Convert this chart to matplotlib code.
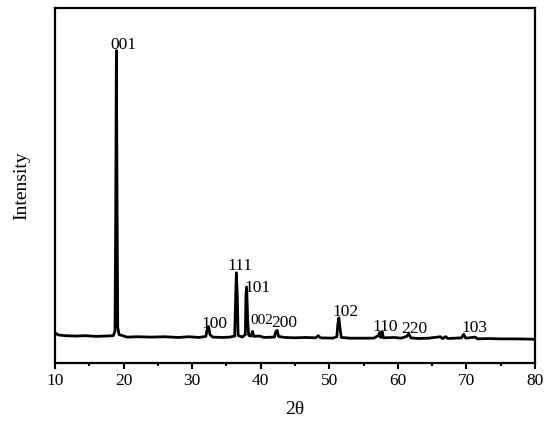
import matplotlib
matplotlib.use('Agg')
import matplotlib.pyplot as plt
from matplotlib.ticker import MultipleLocator

# XRD pattern points (2theta, intensity in arbitrary units)
two_theta = [10.0, 10.5, 11.5, 13.0, 14.5, 16.0, 17.5, 18.5, 18.75, 18.85, 18.95, 19.05, 19.15, 19.35,
             20.5, 22.0, 24.0, 26.0, 28.0, 29.5, 31.0, 32.0, 32.2, 32.4, 32.6, 33.0, 34.5, 35.5,
             36.2, 36.3, 36.45, 36.6, 36.7, 37.3, 37.75, 37.85, 37.95, 38.1, 38.25, 38.6, 38.8, 39.0,
             39.8, 40.5, 42.0, 42.2, 42.4, 42.6, 43.5, 45.0, 46.5, 48.0, 48.4, 48.7, 50.5, 51.1,
             51.25, 51.4, 51.55, 51.75, 53.0, 55.0, 56.5, 57.2, 57.35, 57.5, 57.7, 57.9, 59.5, 60.5,
             61.3, 61.6, 61.9, 63.0, 64.5, 66.2, 66.5, 67.0, 67.3, 69.3, 69.6, 69.9, 71.3, 71.6,
             73.0, 75.0, 77.0, 80.0]
intensity = [8.5, 7.9, 7.7, 7.6, 7.7, 7.5, 7.6, 7.7, 9.0, 40.0, 88.0, 45.0, 10.0, 8.0,
             7.3, 7.4, 7.3, 7.4, 7.2, 7.4, 7.2, 7.5, 9.5, 10.3, 8.0, 7.3, 7.2, 7.3,
             7.6, 15.0, 25.4, 18.0, 7.8, 7.3, 8.0, 19.0, 21.4, 12.0, 7.8, 7.6, 8.9, 7.5,
             7.6, 7.2, 7.3, 8.8, 9.2, 7.5, 7.2, 7.1, 7.2, 7.1, 7.7, 7.1, 7.0, 7.4,
             11.0, 12.7, 10.0, 7.2, 7.0, 7.0, 7.0, 7.8, 8.6, 7.2, 8.8, 7.1, 7.2, 7.0,
             7.5, 8.2, 7.1, 6.9, 7.0, 7.4, 6.9, 7.4, 6.9, 7.1, 8.1, 7.0, 7.3, 6.8,
             6.9, 6.8, 6.8, 6.7]

# peak labels and where they sit
peak_labels = ['001', '111', '101', '100', '002', '200', '102', '110', '220', '103']
label_x = [20.0, 37.0, 39.6, 33.3, 40.2, 43.5, 52.4, 58.1, 62.4, 71.1]
label_y = [89.6, 27.2, 21.1, 11.1, 11.9, 11.3, 14.4, 10.1, 9.6, 9.9]
label_size = [12.5, 12.5, 12.5, 12.5, 11, 12.5, 12.5, 12.5, 12.5, 12.5]

plt.rcParams['font.family'] = ['Liberation Serif', 'DejaVu Serif']

fig = plt.figure(figsize=(5.5, 4.29), dpi=100)
ax = fig.add_axes([0.1, 0.1538, 0.8727, 0.8276])

ax.plot(two_theta, intensity, color='black', linewidth=2.0)

for lab, lx, ly, fs in zip(peak_labels, label_x, label_y, label_size):
    ax.text(lx, ly, lab, fontsize=fs, ha='center', va='center')

ax.set_xlim(10, 80)
ax.set_ylim(0, 100)
ax.xaxis.set_major_locator(MultipleLocator(10))
ax.xaxis.set_minor_locator(MultipleLocator(5))
ax.set_yticks([])
ax.tick_params(axis='x', which='major', direction='out', length=4.5, width=1.5, labelsize=12.5, pad=3)
ax.tick_params(axis='x', which='minor', direction='out', length=2.5, width=1.5)
for s in ax.spines.values():
    s.set_linewidth(1.6)

ax.set_xlabel('2θ', fontsize=14, labelpad=8)
ax.set_ylabel('Intensity', fontsize=14, labelpad=18)

fig.savefig('out.png', dpi=100)
